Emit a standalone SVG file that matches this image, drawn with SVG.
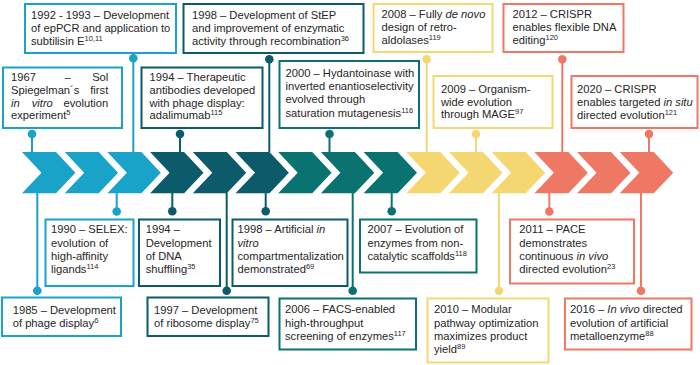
<svg xmlns="http://www.w3.org/2000/svg" width="700" height="365" viewBox="0 0 700 365">
<defs>
<style>
text{font-family:"Liberation Sans",Arial,Helvetica,sans-serif;font-size:11.2px;fill:#262626}
.i{font-style:italic}
.box{fill:#fff;stroke-width:2}
.lb{fill:#1aa3c9}.dt{fill:#0b5b6b}.tl{fill:#0a736f}.yl{fill:#f5d772}.sm{fill:#ef7865}
.blb{stroke:#1aa3c9}.bdt{stroke:#0b5b6b}.btl{stroke:#0a736f}.byl{stroke:#f5d772}.bsm{stroke:#ef7865}
.ln{stroke-width:2;fill:none}
</style>
<path id="chev" d="M0,152 L34,152 L53.4,172.7 L34,193.3 L0,193.3 L19.5,172.7 Z"/>
</defs>
<rect width="700" height="365" fill="#fff"/>

<g id="timeline">
<use href="#chev" x="22" class="lb"/>
<use href="#chev" x="64.7" class="lb"/>
<use href="#chev" x="107.4" class="lb"/>
<use href="#chev" x="150.1" class="dt"/>
<use href="#chev" x="192.8" class="dt"/>
<use href="#chev" x="235.5" class="dt"/>
<use href="#chev" x="278.2" class="tl"/>
<use href="#chev" x="320.9" class="tl"/>
<use href="#chev" x="363.6" class="tl"/>
<use href="#chev" x="406.3" class="yl"/>
<use href="#chev" x="449" class="yl"/>
<use href="#chev" x="491.7" class="yl"/>
<use href="#chev" x="534.4" class="sm"/>
<use href="#chev" x="577.1" class="sm"/>
<use href="#chev" x="619.8" class="sm"/>
</g>

<g id="connectors">
<line x1="133.3" y1="58.3" x2="133.3" y2="152" class="ln blb"/><circle cx="133.3" cy="58.3" r="4.3" class="lb"/>
<line x1="269.3" y1="59.3" x2="269.3" y2="152" class="ln bdt"/><circle cx="269.3" cy="59.3" r="4.3" class="dt"/>
<line x1="426.7" y1="59.3" x2="426.7" y2="152" class="ln byl"/><circle cx="426.7" cy="59.3" r="4.3" class="yl"/>
<line x1="562.3" y1="59.3" x2="562.3" y2="152" class="ln bsm"/><circle cx="562.3" cy="59.3" r="4.3" class="sm"/>
<line x1="32" y1="134" x2="32" y2="152" class="ln blb"/><circle cx="32" cy="134" r="4.3" class="lb"/>
<line x1="180" y1="134" x2="180" y2="152" class="ln bdt"/><circle cx="180" cy="134" r="4.3" class="dt"/>
<line x1="329.5" y1="134" x2="329.5" y2="152" class="ln btl"/><circle cx="329.5" cy="134" r="4.3" class="tl"/>
<line x1="476" y1="134" x2="476" y2="152" class="ln byl"/><circle cx="476" cy="134" r="4.3" class="yl"/>
<line x1="649" y1="134" x2="649" y2="152" class="ln bsm"/><circle cx="649" cy="134" r="4.3" class="sm"/>

<line x1="116.7" y1="193" x2="116.7" y2="211.5" class="ln blb"/><circle cx="116.7" cy="211.5" r="4.3" class="lb"/>
<line x1="172.3" y1="193" x2="172.3" y2="211.3" class="ln bdt"/><circle cx="172.3" cy="211.3" r="4.3" class="dt"/>
<line x1="265.7" y1="193" x2="265.7" y2="211.3" class="ln bdt"/><circle cx="265.7" cy="211.3" r="4.3" class="dt"/>
<line x1="391.7" y1="193" x2="391.7" y2="211.3" class="ln btl"/><circle cx="391.7" cy="211.3" r="4.3" class="tl"/>
<line x1="549.3" y1="193" x2="549.3" y2="211.5" class="ln bsm"/><circle cx="549.3" cy="211.5" r="4.3" class="sm"/>
<line x1="37.3" y1="193" x2="37.3" y2="290.7" class="ln blb"/><circle cx="37.3" cy="290.7" r="4.3" class="lb"/>
<line x1="226.7" y1="193" x2="226.7" y2="290.7" class="ln bdt"/><circle cx="226.7" cy="290.7" r="4.3" class="dt"/>
<line x1="352.7" y1="193" x2="352.7" y2="290.7" class="ln btl"/><circle cx="352.7" cy="290.7" r="4.3" class="tl"/>
<line x1="499" y1="193" x2="499" y2="290.7" class="ln byl"/><circle cx="499" cy="290.7" r="4.3" class="yl"/>
<line x1="641" y1="193" x2="641" y2="290.7" class="ln bsm"/><circle cx="641" cy="290.7" r="4.3" class="sm"/>
</g>

<g id="n1992">
<rect x="25" y="4" width="151" height="49" class="box blb"/>
<text x="31" y="18.7">1992 - 1993 – Development</text>
<text x="31" y="32">of epPCR and application to</text>
<text x="31" y="45.3">subtilisin E<tspan font-size="7.5" dy="-4">10,11</tspan></text>
</g>

<g id="n1998a">
<rect x="183.5" y="4" width="180" height="49" class="box bdt"/>
<text x="192" y="18.7">1998 – Development of StEP</text>
<text x="192" y="32">and improvement of enzymatic</text>
<text x="192" y="45.3">activity through recombination<tspan font-size="7.5" dy="-4">36</tspan></text>
</g>

<g id="n2008">
<rect x="373.5" y="4" width="119" height="48" class="box byl"/>
<text x="381.5" y="17.7">2008 – Fully <tspan class="i">de novo</tspan></text>
<text x="381.5" y="31">design of retro-</text>
<text x="381.5" y="44.3">aldolases<tspan font-size="7.5" dy="-4">119</tspan></text>
</g>

<g id="n2012">
<rect x="503.5" y="4" width="120" height="48" class="box bsm"/>
<text x="512.5" y="17.7">2012 – CRISPR</text>
<text x="512.5" y="31">enables flexible DNA</text>
<text x="512.5" y="44.3">editing<tspan font-size="7.5" dy="-4">120</tspan></text>
</g>

<g id="n1967">
<rect x="3" y="67.5" width="119" height="60.5" class="box blb"/>
<text x="11" y="81">1967</text>
<text x="67.5" y="81" text-anchor="middle">–</text>
<text x="108.3" y="81" text-anchor="end">Sol</text>
<text x="11" y="93.8">Spiegelman´s</text>
<text x="108.3" y="93.8" text-anchor="end">first</text>
<text x="11" y="106.6" class="i">in</text>
<text x="31.7" y="106.6" class="i">vitro</text>
<text x="108.3" y="106.6" text-anchor="end">evolution</text>
<text x="11" y="119.4">experiment<tspan font-size="7.5" dy="-4">5</tspan></text>
</g>

<g id="n1994a">
<rect x="141.5" y="67.5" width="121" height="60.5" class="box bdt"/>
<text x="149.5" y="81">1994 – Therapeutic</text>
<text x="149.5" y="93.8">antibodies developed</text>
<text x="149.5" y="106.6">with phage display:</text>
<text x="149.5" y="119.4">adalimumab<tspan font-size="7.5" dy="-4">115</tspan></text>
</g>

<g id="n2000">
<rect x="279.5" y="61" width="139.5" height="67" class="box btl"/>
<text x="285.5" y="76.7">2000 – Hydantoinase with</text>
<text x="285.5" y="90">inverted enantioselectivity</text>
<text x="285.5" y="103.2">evolved through</text>
<text x="285.5" y="116.5">saturation mutagenesis<tspan font-size="7.5" dy="-4">116</tspan></text>
</g>

<g id="n2009">
<rect x="433.5" y="76" width="119" height="52" class="box byl"/>
<text x="441" y="93">2009 – Organism-</text>
<text x="441" y="105.7">wide evolution</text>
<text x="441" y="118.4">through MAGE<tspan font-size="7.5" dy="-4">97</tspan></text>
</g>

<g id="n2020">
<rect x="571.5" y="76" width="126" height="52" class="box bsm"/>
<text x="577" y="92.7">2020 – CRISPR</text>
<text x="577" y="105.9">enables targeted <tspan class="i">in situ</tspan></text>
<text x="577" y="119">directed evolution<tspan font-size="7.5" dy="-4">121</tspan></text>
</g>

<g id="n1990">
<rect x="45.5" y="219.5" width="88" height="66.5" class="box blb"/>
<text x="51" y="233.3">1990 – SELEX:</text>
<text x="51" y="246.6">evolution of</text>
<text x="51" y="259.9">high-affinity</text>
<text x="51" y="273.2">ligands<tspan font-size="7.5" dy="-4">114</tspan></text>
</g>

<g id="n1994b">
<rect x="139" y="219.5" width="81" height="66.5" class="box bdt"/>
<text x="145.7" y="233.3">1994 –</text>
<text x="145.7" y="246.6">Development</text>
<text x="145.7" y="259.9">of DNA</text>
<text x="145.7" y="273.2">shuffling<tspan font-size="7.5" dy="-4">35</tspan></text>
</g>

<g id="n1998b">
<rect x="232.5" y="219.5" width="115" height="66.5" class="box bdt"/>
<text x="237.5" y="233.3">1998 – Artificial <tspan class="i">in</tspan></text>
<text x="237.5" y="246.6" class="i">vitro</text>
<text x="237.5" y="259.9">compartmentalization</text>
<text x="237.5" y="273.2">demonstrated<tspan font-size="7.5" dy="-4">69</tspan></text>
</g>

<g id="n2007">
<rect x="360" y="219.5" width="116.5" height="53" class="box btl"/>
<text x="367.5" y="233.3">2007 – Evolution of</text>
<text x="367.5" y="246.6">enzymes from non-</text>
<text x="367.5" y="259.9">catalytic scaffolds<tspan font-size="7.5" dy="-4">118</tspan></text>
</g>

<g id="n2011">
<rect x="510" y="219.5" width="124" height="64" class="box bsm"/>
<text x="519.3" y="233.3">2011 – PACE</text>
<text x="519.3" y="246.6">demonstrates</text>
<text x="519.3" y="259.9">continuous <tspan class="i">in vivo</tspan></text>
<text x="519.3" y="273.2">directed evolution<tspan font-size="7.5" dy="-4">23</tspan></text>
</g>

<g id="n1985">
<rect x="2" y="297.5" width="119" height="38.5" class="box blb"/>
<text x="12.7" y="314">1985 – Development</text>
<text x="12.7" y="327.3">of phage display<tspan font-size="7.5" dy="-4">6</tspan></text>
</g>

<g id="n1997">
<rect x="147.5" y="297.5" width="121" height="38.5" class="box bdt"/>
<text x="154" y="314">1997 – Development</text>
<text x="154" y="327.3">of ribosome display<tspan font-size="7.5" dy="-4">75</tspan></text>
</g>

<g id="n2006">
<rect x="279.5" y="298.5" width="136.5" height="51" class="box btl"/>
<text x="285" y="313.3">2006 – FACS-enabled</text>
<text x="285" y="326.6">high-throughput</text>
<text x="285" y="339.9">screening of enzymes<tspan font-size="7.5" dy="-4">117</tspan></text>
</g>

<g id="n2010">
<rect x="427.5" y="298.5" width="121" height="64" class="box byl"/>
<text x="434" y="313.3">2010 – Modular</text>
<text x="434" y="326.6">pathway optimization</text>
<text x="434" y="339.9">maximizes product</text>
<text x="434" y="353.2">yield<tspan font-size="7.5" dy="-4">89</tspan></text>
</g>

<g id="n2016">
<rect x="565" y="298.5" width="126.5" height="51" class="box bsm"/>
<text x="570" y="313.3">2016 – <tspan class="i">In vivo</tspan> directed</text>
<text x="570" y="326.6">evolution of artificial</text>
<text x="570" y="339.9">metalloenzyme<tspan font-size="7.5" dy="-4">88</tspan></text>
</g>
</svg>
